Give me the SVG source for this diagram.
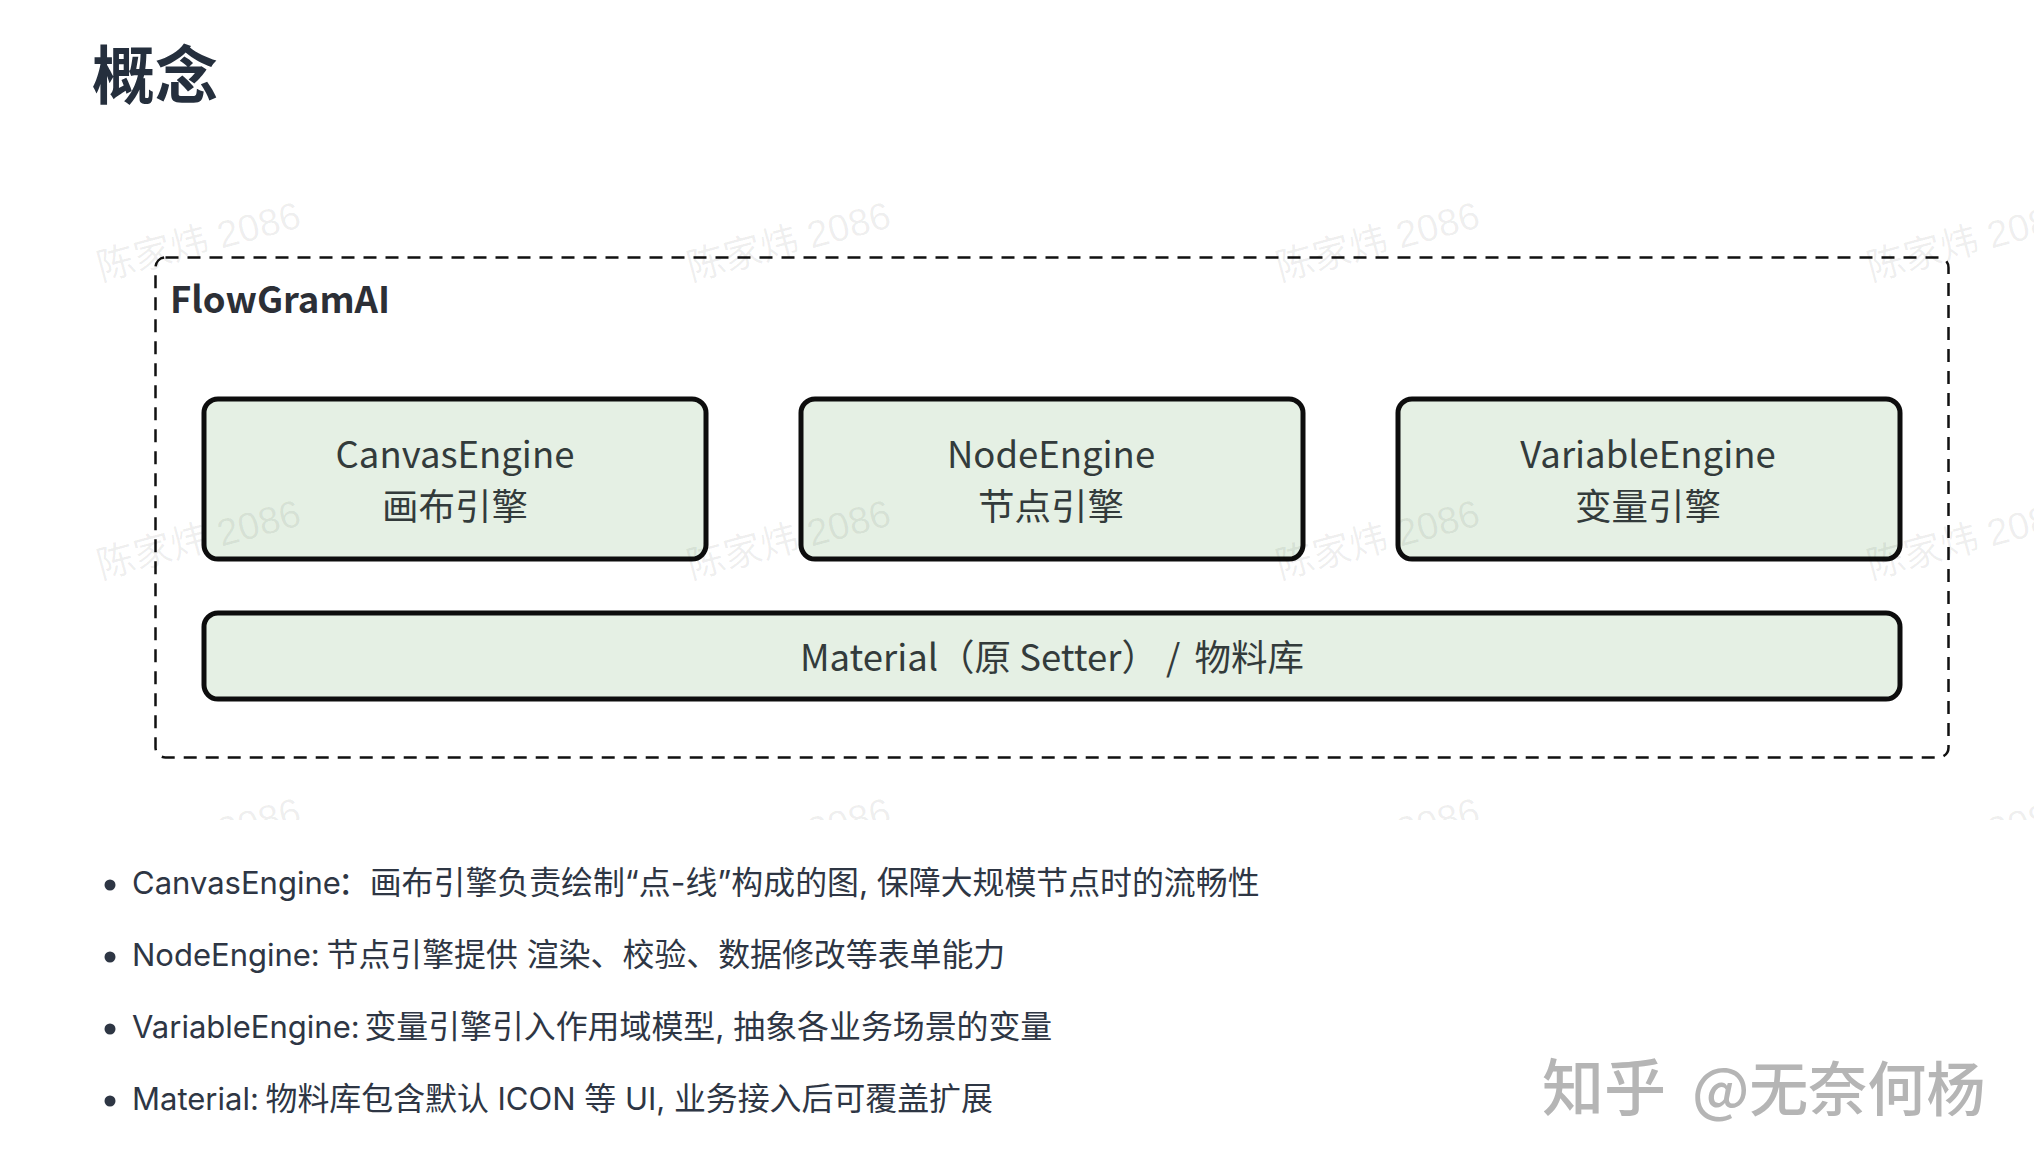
<svg xmlns="http://www.w3.org/2000/svg" width="2034" height="1172" viewBox="0 0 2034 1172">
<defs>
<clipPath id="wmclip"><rect x="0" y="180" width="2034" height="640"/></clipPath>
<g id="wm"><text class="wm" x="0" y="0">陈家炜 2086</text></g>
</defs>
<style>
text{font-family:"Noto Sans CJK SC","Noto Sans",sans-serif}
.wm{font-size:38px;fill:#000;fill-opacity:.065;font-family:"Liberation Sans","Noto Sans CJK SC",sans-serif}
.box{fill:#e5f0e4;stroke:#0d0d0d;stroke-width:5}
.lbl{font-size:36.500px;fill:#333b3b;text-anchor:middle}
.li{font-size:31px;fill:#2e3644;font-family:Inter,"Noto Sans CJK SC",sans-serif}
.c{font-size:31.900px}
.dot{fill:#2e3644}
.cr{font-weight:500;fill:#b5b5b5}
</style>
<rect width="2034" height="1172" fill="#ffffff"/>
<text id="title" x="92" y="98" font-size="63" font-weight="700" fill="#252f3d">概念</text>
<g id="group-flowgram">
<rect x="155.500" y="257.500" width="1793" height="500" rx="10" fill="none" stroke="#111" stroke-width="2.500" stroke-dasharray="13 9"/>
<text x="170" y="313" font-size="36.500" font-weight="700" fill="#2c2f36">FlowGramAI</text>
</g>
<g id="node-canvas"><rect class="box" x="204" y="399" width="502" height="160" rx="14"/>
<text class="lbl" x="455" y="468">CanvasEngine</text><text class="lbl" x="455" y="520">画布引擎</text></g>
<g id="node-node"><rect class="box" x="801" y="399" width="502" height="160" rx="14"/>
<text class="lbl" x="1051" y="468">NodeEngine</text><text class="lbl" x="1051" y="520">节点引擎</text></g>
<g id="node-variable"><rect class="box" x="1398" y="399" width="502" height="160" rx="14"/>
<text class="lbl" x="1648" y="468">VariableEngine</text><text class="lbl" x="1648" y="520">变量引擎</text></g>
<g id="node-material"><rect class="box" x="204" y="613" width="1696" height="86" rx="14"/>
<text class="lbl" x="1052" y="671">Material（原 Setter） / <tspan dx="6">物料库</tspan></text></g>
<g id="connectors"></g>
<g clip-path="url(#wmclip)">
<use href="#wm" transform="translate(101 281) rotate(-15)"/>
<use href="#wm" transform="translate(691 281) rotate(-15)"/>
<use href="#wm" transform="translate(1280 281) rotate(-15)"/>
<use href="#wm" transform="translate(1871 281) rotate(-15)"/>
<use href="#wm" transform="translate(101 579) rotate(-15)"/>
<use href="#wm" transform="translate(691 579) rotate(-15)"/>
<use href="#wm" transform="translate(1280 579) rotate(-15)"/>
<use href="#wm" transform="translate(1871 579) rotate(-15)"/>
<use href="#wm" transform="translate(101 877) rotate(-15)"/>
<use href="#wm" transform="translate(691 877) rotate(-15)"/>
<use href="#wm" transform="translate(1280 877) rotate(-15)"/>
<use href="#wm" transform="translate(1871 877) rotate(-15)"/>
</g>
<g id="notes">
<circle class="dot" cx="110" cy="885" r="5.500"/><text class="li" x="132" y="894">CanvasEngine<tspan class="c" dx="-3">：画布引擎负责绘制“点-线”构成的图,</tspan> <tspan class="c">保障大规模节点时的流畅性</tspan></text>
<circle class="dot" cx="110" cy="957" r="5.500"/><text class="li" x="132" y="966">NodeEngine: <tspan class="c" dx="-2">节点引擎提供 渲染、校验、数据修改等表单能力</tspan></text>
<circle class="dot" cx="110" cy="1029" r="5.500"/><text class="li" x="132" y="1038">VariableEngine: <tspan class="c" dx="-4">变量引擎引入作用域模型, 抽象各业务场景的变量</tspan></text>
<circle class="dot" cx="110" cy="1101" r="5.500"/><text class="li" x="132" y="1110">Material: <tspan class="c" dx="-2">物料库包含默认</tspan> ICON <tspan class="c">等</tspan> UI, <tspan class="c">业务接入后可覆盖扩展</tspan></text>
</g>
<text id="credit" class="cr" y="1111"><tspan x="1542" font-size="62">知乎</tspan><tspan x="1692" font-size="59">@无奈何杨</tspan></text>
</svg>
